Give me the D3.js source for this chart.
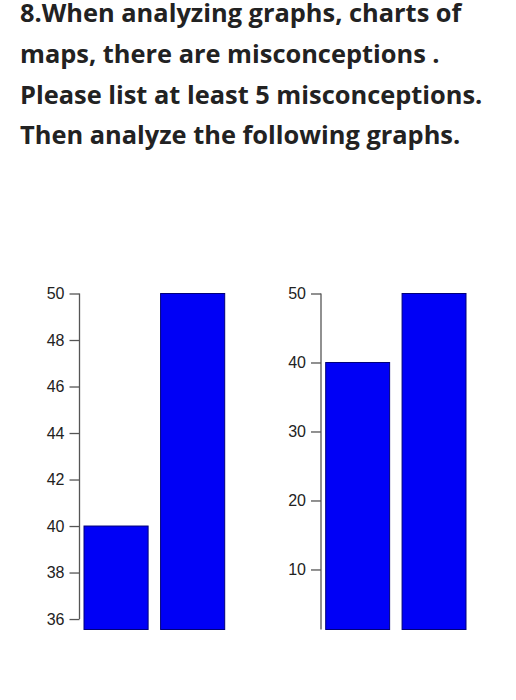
<!DOCTYPE html>
<html>
<head>
<meta charset="utf-8">
<script src="https://cdn.jsdelivr.net/npm/d3@7"></script>
<style>
  body { margin: 0; background: #fff; }
  svg { display: block; }
</style>
</head>
<body>
<script>
// question text
var titleLines = [
    "8.When analyzing graphs, charts of",
    "maps, there are misconceptions .",
    "Please list at least 5 misconceptions.",
    "Then analyze the following graphs."
];

// two bar charts with the same data, different y axis start
var categories = ["A", "B"];
var valuesLeft = [40, 50];
var valuesRight = [40, 50];
var ticksLeft = [36, 38, 40, 42, 44, 46, 48, 50];
var ticksRight = [10, 20, 30, 40, 50];
var domainLeft = [35.55, 50];
var domainRight = [1.3, 50];

var W = 516, H = 700;
var svg = d3.select("body").append("svg")
    .attr("width", W)
    .attr("height", H);

svg.append("g").selectAll("text")
    .data(titleLines)
    .enter().append("text")
    .attr("x", 20)
    .attr("y", function(d, i) { return 22 + i * 40.8; })
    .attr("font-family", "'Open Sans', sans-serif")
    .attr("font-weight", "bold")
    .attr("font-size", 25.4)
    .attr("fill", "#222")
    .text(function(d) { return d; });

function barChart(values, domain, ticks, axisX, x0, x1, axisFromDomain) {
    var y = d3.scaleLinear().domain(domain).range([629.5, 293.5]);
    var x = d3.scaleBand().domain(categories).range([x0, x1])
        .paddingInner(0.163).paddingOuter(0);

    var g = svg.append("g");

    g.selectAll("rect")
        .data(values)
        .enter().append("rect")
        .attr("x", function(d, i) { return x(categories[i]); })
        .attr("width", x.bandwidth())
        .attr("y", function(d) { return y(d); })
        .attr("height", function(d) { return y(domain[0]) - y(d); })
        .attr("fill", "#0000f6")
        .attr("stroke", "#00007a")
        .attr("stroke-width", 1);

    var axis = d3.axisLeft(y)
        .tickValues(ticks)
        .tickSize(10)
        .tickPadding(5)
        .tickFormat(d3.format("d"));

    var ag = g.append("g")
        .attr("transform", "translate(" + axisX + ",0)")
        .call(axis);
    ag.select(".domain").remove();
    ag.selectAll(".tick line").attr("stroke", "#555").attr("stroke-width", 1.3);
    ag.selectAll(".tick text")
        .attr("font-family", "'Liberation Sans', Arial, sans-serif")
        .attr("font-size", 16)
        .attr("fill", "#222");

    var lo = axisFromDomain ? domain[0] : ticks[0];
    ag.append("line")
        .attr("x1", 0).attr("x2", 0)
        .attr("y1", y(lo))
        .attr("y2", y(ticks[ticks.length - 1]))
        .attr("stroke", "#555")
        .attr("stroke-width", 1.3);
}

barChart(valuesLeft, domainLeft, ticksLeft, 79.5, 84, 224.7, false);
barChart(valuesRight, domainRight, ticksRight, 321, 325.7, 466, true);
</script>
</body>
</html>
